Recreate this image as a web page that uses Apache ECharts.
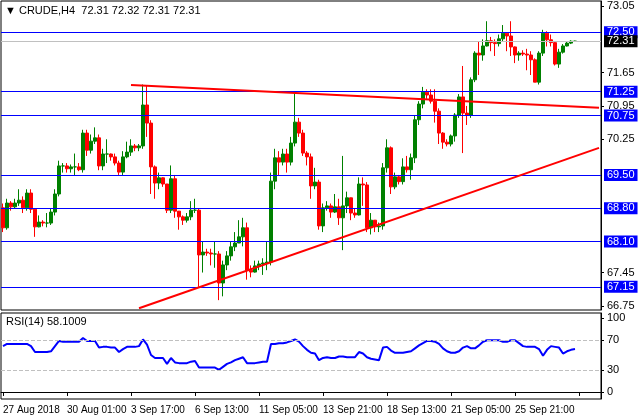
<!DOCTYPE html>
<html>
<head>
<meta charset="utf-8">
<script src="https://cdn.jsdelivr.net/npm/echarts@6/dist/echarts.min.js"></script>
<style>
html, body { margin: 0; padding: 0; background: #fff; }
#main { width: 640px; height: 420px; }
</style>
</head>
<body>
<div id="main"></div>
<script>
// H4 candles (open = previous close)
var closes = [
    68.39,68.91,68.83,68.91,68.97,68.81,69.12,68.78,68.41,68.51,68.49,68.49,68.72,69.10,69.69,69.69,69.63,69.67,69.67,69.61,70.38,70.02,70.21,70.28,69.69,
    69.94,69.94,69.88,69.75,69.56,69.88,69.98,70.11,70.07,70.11,70.97,70.59,69.67,69.33,69.44,69.31,68.76,69.42,68.74,68.62,68.55,68.62,68.76,
    68.76,67.82,67.88,67.86,67.84,67.84,67.23,67.61,67.80,67.99,68.07,68.20,68.39,67.50,67.46,67.59,67.63,67.65,67.67,69.37,69.86,69.77,69.94,69.77,
    70.17,70.61,70.38,69.96,69.88,69.27,69.35,68.43,68.81,68.85,68.72,68.83,68.60,68.85,69.02,68.70,68.66,69.31,69.29,68.39,68.55,68.41,68.43,69.65,
    70.07,69.25,69.46,69.36,69.67,69.61,69.86,70.66,70.99,71.24,71.18,71.05,70.84,70.38,70.19,70.15,70.32,70.76,71.14,70.80,70.76,
    71.50,72.06,72.02,72.21,72.32,72.28,72.26,72.36,72.48,72.42,72.19,72.02,72.06,72.04,72.02,71.92,71.45,72.06,72.48,72.34,72.28,71.83,72.08,72.21,72.27,72.31,72.31
];
var highs = [
    68.9,69.0,68.95,69.0,69.2,69.05,69.2,69.2,68.8,68.65,68.55,68.7,68.8,69.2,69.8,69.75,69.75,69.72,69.95,69.75,70.45,70.45,70.35,70.5,70.35,
    70.05,70.25,69.95,69.95,69.8,70.0,70.2,70.25,70.15,70.15,71.4,71.39,70.65,69.7,69.55,69.45,69.3,69.7,69.5,68.7,68.65,68.7,68.95,
    69.0,68.8,68.1,67.95,67.95,68.1,67.9,67.7,67.9,68.1,68.3,68.55,68.6,68.5,67.6,67.7,67.7,67.75,68.1,69.55,70.05,70.0,70.05,70.05,
    70.3,71.22,70.7,70.45,70.0,69.95,69.65,69.4,68.9,68.95,68.9,69.1,69.0,69.9,69.15,68.8,68.8,69.45,69.45,69.35,68.7,68.5,68.5,69.75,
    70.25,70.1,69.55,69.5,69.85,69.9,69.95,70.75,71.05,71.35,71.3,71.3,71.3,70.9,70.4,70.25,70.35,70.8,71.2,71.79,70.95,
    71.55,72.1,72.3,72.35,72.73,72.4,72.35,72.45,72.65,72.5,72.73,72.2,72.1,72.12,72.15,72.1,71.95,72.1,72.55,72.52,72.45,72.3,72.15,72.25,72.3,72.33,72.32
];
var lows = [
    68.3,68.35,68.75,68.8,68.85,68.7,68.75,68.7,68.2,68.4,68.42,68.4,68.45,68.65,69.05,69.55,69.55,69.55,69.5,69.58,69.55,69.9,69.95,70.15,69.6,
    69.6,69.75,69.8,69.7,69.5,69.5,69.85,69.9,70.0,70.0,70.05,70.3,69.1,69.0,69.2,69.25,68.7,68.7,68.6,68.35,68.45,68.5,68.55,
    68.7,67.15,67.45,67.8,67.6,67.55,66.87,66.95,67.5,67.7,67.9,68.1,68.0,67.3,67.35,67.45,67.5,67.4,67.5,67.6,69.2,69.5,69.7,69.55,
    69.7,70.1,70.3,69.9,69.7,69.0,69.2,68.35,68.3,68.75,68.6,68.7,68.45,67.92,68.7,68.55,68.6,68.65,68.85,68.3,68.25,68.3,68.3,68.35,
    69.55,69.1,69.2,69.3,69.3,69.55,69.4,69.75,70.55,70.9,71.1,71.0,70.6,70.15,70.05,70.1,70.1,70.2,70.7,69.96,70.55,
    70.7,71.45,71.6,71.9,72.2,72.1,72.0,72.2,72.3,72.1,72.0,71.85,71.9,72.0,71.7,71.6,71.45,71.4,72.0,72.2,72.2,71.8,71.75,72.05,72.2,72.25,72.31
];
var firstOpen = 68.81;
var rsi = [
    62,65,65,65,65,65,65,62,54,54,54,54,55,62,69,68,68,68,68,68,73,69,69,69,60,
    61,61,60,60,54,58,61,61,61,62,71,64,50,46,46,46,38,46,40,39,39,39,41,
    42,33,33,33,33,33,30,34,38,40,43,45,47,39,39,39,40,41,41,65,65,66,66,67,
    69,71,68,62,57,53,52,43,46,47,46,46,48,48,47,47,47,54,52,47,45,44,43,60,
    61,56,53,53,53,54,55,59,63,66,69,69,68,65,59,55,53,53,55,60,62,
    59,59,63,68,70,70,70,70,68,68,70,70,66,62,61,61,61,58,49,57,62,61,60,52,55,57,58
];
var tickLabels = ['27 Aug 2018', '30 Aug 01:00', '3 Sep 17:00', '6 Sep 13:00', '11 Sep 05:00',
    '13 Sep 21:00', '18 Sep 13:00', '21 Sep 05:00', '25 Sep 21:00'];
var levels = [72.50, 71.25, 70.75, 69.50, 68.80, 68.10, 67.15];
var priceTicks = [73.05, 71.65, 70.95, 70.25, 67.45, 66.75];
var lastPrice = 72.31;
var upperTrend = [[32, 71.39], [149, 70.91]];
var lowerTrend = [[34, 66.70], [149, 70.07]];
var slots = 150;

var font = 'Liberation Sans';
var cats = [];
for (var i = 0; i < slots; i++) cats.push(i);

var candles = [];
for (var i = 0; i < closes.length; i++) {
    var o = i === 0 ? firstOpen : closes[i - 1];
    candles.push([o, closes[i], lows[i], highs[i]]);
}

var levelLines = levels.map(function (v) {
    return {
        yAxis: v,
        lineStyle: { color: '#0000ff', width: 1.2, type: 'solid' },
        label: { show: true, position: 'end', formatter: v.toFixed(2), color: '#fff',
            backgroundColor: '#0000ff', padding: [1, 3, 0, 3], fontFamily: font, fontSize: 11, distance: 3 }
    };
});
levelLines.push({
    yAxis: lastPrice,
    lineStyle: { color: '#c0c0c0', width: 1, type: 'solid' },
    label: { show: true, position: 'end', formatter: lastPrice.toFixed(2), color: '#fff',
        backgroundColor: '#000', padding: [1, 3, 0, 3], fontFamily: font, fontSize: 11, distance: 3 }
});
function trend(p) {
    return [
        { coord: p[0], lineStyle: { color: '#ff0000', width: 2, type: 'solid' }, label: { show: false } },
        { coord: p[1] }
    ];
}
levelLines.push(trend(upperTrend));
levelLines.push(trend(lowerTrend));

var myChart = echarts.init(document.getElementById('main'));
var option = {
    animation: false,
    backgroundColor: '#fff',
    textStyle: { fontFamily: font },
    grid: [
        { left: 1, right: 39, top: 1, height: 309, show: true, borderColor: '#000', borderWidth: 1, backgroundColor: '#fff' },
        { left: 1, right: 39, top: 313, height: 86, show: true, borderColor: '#000', borderWidth: 1, backgroundColor: '#fff' }
    ],
    graphic: [
        { type: 'text', left: 5, top: 5, style: { text: '▼ CRUDE,H4  72.31 72.32 72.31 72.31', font: '11px ' + font, fill: '#000' } },
        { type: 'text', left: 6, top: 316, style: { text: 'RSI(14) 58.1009', font: '11px ' + font, fill: '#000' } }
    ],
    xAxis: [
        { type: 'category', data: cats, gridIndex: 0, boundaryGap: true,
          axisLine: { show: false }, axisTick: { show: false }, axisLabel: { show: false } },
        { type: 'category', data: cats, gridIndex: 1, boundaryGap: true,
          axisLine: { show: true, lineStyle: { color: '#000' } },
          axisTick: { show: true, alignWithLabel: true, length: 4, lineStyle: { color: '#000' },
              interval: function (idx) { return idx % 16 === 0; } },
          axisLabel: { show: true, align: 'left', margin: 6, color: '#000', fontSize: 10, fontFamily: font,
              interval: function (idx) { return idx % 16 === 0; },
              formatter: function (v, idx) { return tickLabels[idx / 16] || ''; } } }
    ],
    yAxis: [
        { type: 'value', gridIndex: 0, position: 'right', min: 66.663, max: 73.155, scale: true,
          splitLine: { show: false },
          axisLine: { show: true, lineStyle: { color: '#000' } },
          axisTick: { show: true, length: 3, customValues: priceTicks, lineStyle: { color: '#000' } },
          axisLabel: { show: true, customValues: priceTicks, color: '#000', fontSize: 11, fontFamily: font, margin: 6,
              formatter: function (v) { return v.toFixed(2); } } },
        { type: 'value', gridIndex: 1, position: 'right', min: -9.5, max: 106.8,
          splitLine: { show: false },
          axisLine: { show: true, lineStyle: { color: '#000' } },
          axisTick: { show: true, length: 3, customValues: [0, 30, 70, 100], lineStyle: { color: '#000' } },
          axisLabel: { show: true, customValues: [0, 30, 70, 100], color: '#000', fontSize: 11, fontFamily: font, margin: 6 } }
    ],
    series: [
        {
            type: 'candlestick', xAxisIndex: 0, yAxisIndex: 0, data: candles, barWidth: 3,
            itemStyle: { color: '#008000', color0: '#ff0000', borderColor: '#008000', borderColor0: '#ff0000', borderWidth: 1 },
            markLine: { silent: true, symbol: 'none', animation: false, data: levelLines }
        },
        {
            type: 'line', xAxisIndex: 1, yAxisIndex: 1, data: rsi, showSymbol: false,
            lineStyle: { color: '#0000ff', width: 2 },
            markLine: { silent: true, symbol: 'none', label: { show: false },
                lineStyle: { color: '#c0c0c0', type: 'dashed', width: 1 },
                data: [{ yAxis: 30 }, { yAxis: 70 }] }
        }
    ]
};
myChart.setOption(option);
</script>
</body>
</html>
